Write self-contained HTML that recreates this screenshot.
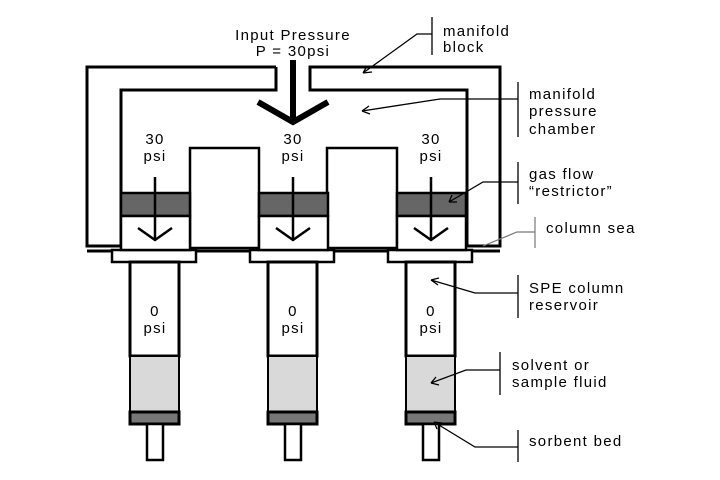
<!DOCTYPE html>
<html><head><style>body{margin:0;background:#fff}svg{display:block}text{font-family:"Liberation Sans",sans-serif;font-size:15px;letter-spacing:1.3px;fill:#000}</style></head><body>
<svg width="720" height="480" viewBox="0 0 720 480">
<defs>
<g id="col">
<rect x="112" y="250" width="84" height="12" fill="#fff" stroke="#000" stroke-width="2.5"/>
<rect x="130" y="262" width="49" height="94" fill="#fff" stroke="#000" stroke-width="3"/>
<rect x="130" y="356" width="49" height="56" fill="#d9d9d9" stroke="#000" stroke-width="2"/>
<rect x="130" y="412" width="49" height="12" fill="#777" stroke="#000" stroke-width="3"/>
<rect x="147" y="424" width="16" height="36" fill="#fff" stroke="#000" stroke-width="2.5"/>
<text x="155" y="316" text-anchor="middle">0</text>
<text x="155" y="333" text-anchor="middle">psi</text>
<rect x="121" y="193" width="69" height="23" fill="#666" stroke="#000" stroke-width="2.5"/>
<rect x="121" y="216" width="69" height="34" fill="#fff" stroke="#000" stroke-width="2.5"/>
<text x="155" y="144" text-anchor="middle">30</text>
<text x="155" y="161" text-anchor="middle">psi</text>
<path d="M155 177V240M138 228L155 240L172 228" fill="none" stroke="#000" stroke-width="2.5"/>
</g>
</defs>
<path d="M276 67H87V246H500V67H310V90H467V246" fill="none" stroke="#000" stroke-width="3"/>
<path d="M276 67V90H121V246" fill="none" stroke="#000" stroke-width="3"/>
<path d="M87 251H500" stroke="#000" stroke-width="3"/>
<rect x="190" y="148" width="69" height="100" fill="#fff" stroke="#000" stroke-width="2.5"/>
<rect x="327" y="148" width="70" height="100" fill="#fff" stroke="#000" stroke-width="2.5"/>
<use href="#col"/>
<use href="#col" transform="translate(138,0)"/>
<use href="#col" transform="translate(276,0)"/>
<path d="M293 60V122" stroke="#000" stroke-width="6"/>
<path d="M258 102L293 122L328 102" fill="none" stroke="#000" stroke-width="6"/>
<text x="293" y="40" text-anchor="middle">Input Pressure</text>
<text x="293" y="56" text-anchor="middle">P = 30psi</text>
<g fill="none" stroke="#000" stroke-width="1.3">
<path d="M432 17V55M432 34H417L363 73M363 73l9 -1M363 73l4 -7"/>
<path d="M518 82V137M518 99H440L362 111M362 111l8 3M362 111l7 -5"/>
<path d="M518 162V204M518 182H483L449 202M449 202l8 0M449 202l3 -7"/>
<path d="M518 275V318M518 293H475L431 280M431 280l7 5M431 280l8 -2"/>
<path d="M500 352V395M500 370H466L431 383M431 383l8 2M431 383l5 -6"/>
<path d="M518 430V462M518 447H475L434 422M434 422l3 7M434 422l8 1"/>
</g>
<g fill="none" stroke="#777" stroke-width="1.2"><path d="M535 217V248M535 232H517L483 246"/></g>
<text x="443" y="36">manifold</text><text x="443" y="52">block</text>
<text x="529" y="99">manifold</text><text x="529" y="116">pressure</text><text x="529" y="134">chamber</text>
<text x="529" y="179">gas flow</text><text x="529" y="196">“restrictor”</text>
<text x="546" y="233">column sea</text>
<text x="529" y="293">SPE column</text><text x="529" y="310">reservoir</text>
<text x="512" y="370">solvent or</text><text x="512" y="387">sample fluid</text>
<text x="529" y="446">sorbent bed</text>
</svg>
</body></html>
